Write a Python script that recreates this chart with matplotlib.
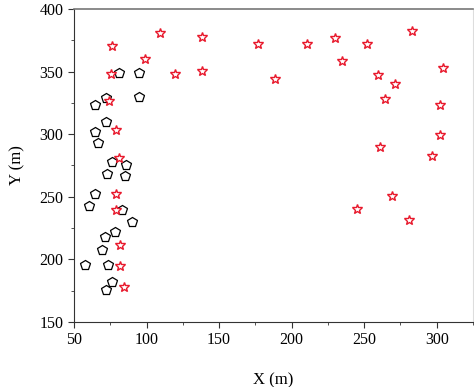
import matplotlib.pyplot as plt
from matplotlib.ticker import MultipleLocator

plt.rcParams['font.family'] = 'Liberation Serif'

# pentagoni neri (punti di un gruppo)
pent_x = [81, 94.8, 64.5, 71.8, 94.5, 72.3, 64.7, 66.8, 76.4, 86, 72.7, 85.3,
          64.7, 60.5, 83.3, 90, 78.2, 71.6, 69, 57.8, 73.6, 76.2, 72.3]
pent_y = [348.7, 348.7, 323.6, 328.7, 330, 310, 301.4, 293, 277.7, 275.2, 268, 266.7,
          251.8, 242.4, 239.5, 229.6, 222, 217.6, 207.7, 195.9, 195.7, 182, 175.4]

# stelle rosse
star_x = [76.4, 109.4, 99.1, 75.7, 119.8, 74.3, 78.9, 81, 78.9, 78.9, 81.7, 81.7, 84.2,
          138.4, 138.2, 176.7, 188.7, 210.7,
          230, 234.4, 251.8, 283.2, 259.4, 271.3, 304.1, 264, 302.3, 261, 302.5,
          296.8, 269, 245.1, 280.9]
star_y = [370.6, 380.5, 359.7, 348.2, 348.2, 326.8, 303.3, 281.2, 251.8, 239.3, 211.7, 194.6, 177.8,
          377.8, 350.6, 372, 343.9, 371.7,
          377, 358.6, 372, 382.4, 347.1, 340.2, 352.5, 328.4, 323.6, 290, 299.3,
          282.2, 250.4, 240.5, 231.7]

fig = plt.figure(figsize=(4.74, 3.87), dpi=100)
ax = fig.add_axes([0.156, 0.168, 0.842, 0.809])

ax.plot(pent_x, pent_y, linestyle='none', marker='p', markersize=7.5,
        markerfacecolor='white', markeredgecolor='black', markeredgewidth=0.9)
ax.plot(star_x, star_y, linestyle='none', marker='*', markersize=7,
        markerfacecolor='white', markeredgecolor='#e8192c', markeredgewidth=1.0)

ax.set_xlim(50, 325)
ax.set_ylim(150, 400)
ax.set_xticks([50, 100, 150, 200, 250, 300])
ax.set_yticks([150, 200, 250, 300, 350, 400])
ax.xaxis.set_minor_locator(MultipleLocator(25))
ax.yaxis.set_minor_locator(MultipleLocator(25))
ax.tick_params(which='major', direction='out', length=4, labelsize=11.5, color='#333333')
ax.tick_params(which='minor', direction='out', length=2.5, color='#333333')

ax.spines['left'].set_color('#333333')
ax.spines['bottom'].set_color('#333333')
ax.spines['top'].set_color('#777777')
ax.spines['top'].set_linewidth(1.2)
ax.spines['right'].set_color('#dddddd')

ax.set_xlabel('X (m)', fontsize=12, labelpad=17)
ax.set_ylabel('Y (m)', fontsize=12, labelpad=10)

fig.savefig('out.png', dpi=100)
